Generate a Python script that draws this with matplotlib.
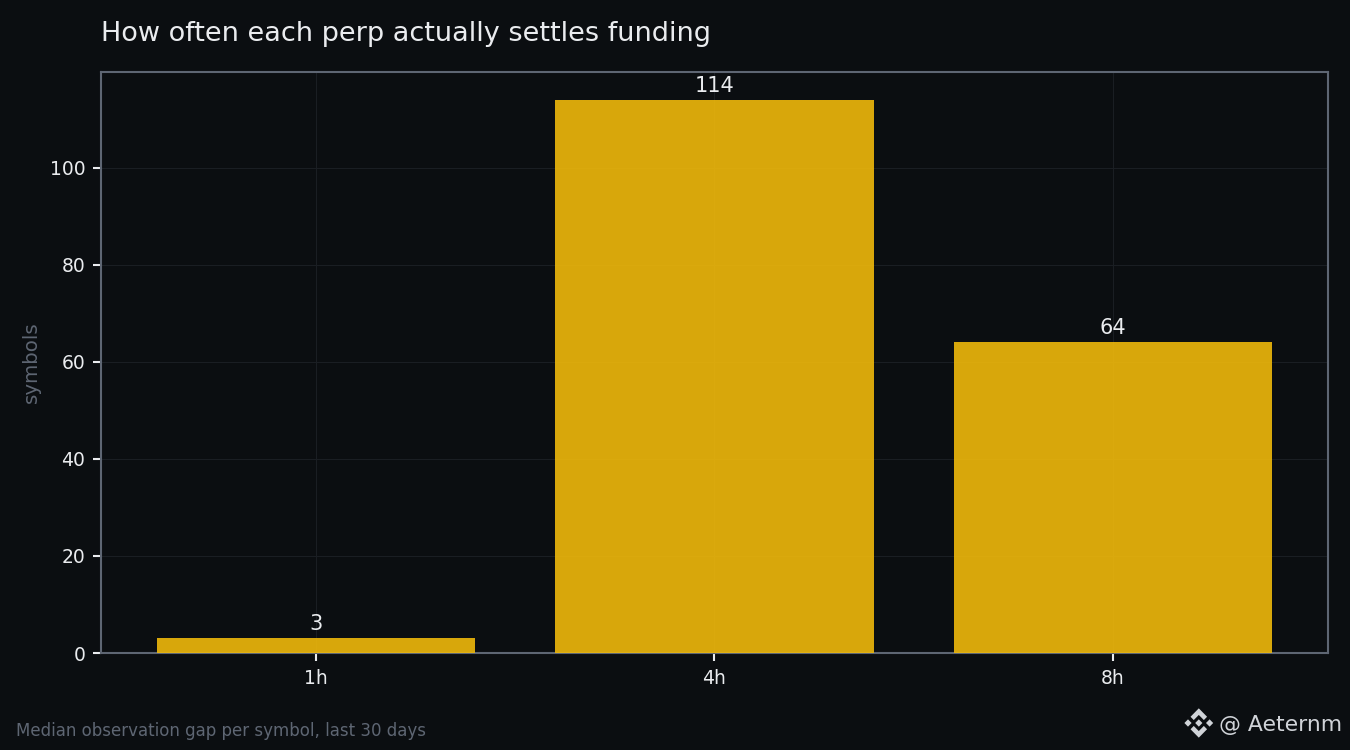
import matplotlib
matplotlib.use("Agg")
import matplotlib.pyplot as plt
from matplotlib.patches import Polygon

# data
intervals = ["1h", "4h", "8h"]
counts = [3, 114, 64]

BG = "#0b0e11"
GOLD = "#f0b90b"
TXT = "#eaecef"
MUTED = "#5e6673"
GRID = "#1a1e23"

plt.rcParams["font.family"] = ["DejaVu Sans"]

fig = plt.figure(figsize=(9, 5), dpi=150, facecolor=BG)
ax = fig.add_axes([0.0748, 0.1293, 0.9089, 0.7747])
ax.set_facecolor(BG)

x = list(range(len(intervals)))
bars = ax.bar(x, counts, width=0.8, color=GOLD, alpha=0.9, zorder=3)
for b, v in zip(bars, counts):
    ax.annotate(str(v), (b.get_x() + b.get_width() / 2, v), xytext=(0, 2),
                textcoords="offset points", ha="center", va="bottom",
                color=TXT, fontsize=10)

ax.set_xticks(x)
ax.set_xticklabels(intervals)
ax.set_ylabel("symbols", color=MUTED, fontsize=9.5, labelpad=4)
ax.tick_params(colors=TXT, labelsize=9, length=4, width=1)
for t in ax.get_xticklines() + ax.get_yticklines():
    t.set_color("#c8ccd2")
ax.grid(True, color=GRID, linewidth=0.5, zorder=0)
for s in ax.spines.values():
    s.set_color(MUTED)
    s.set_linewidth(1)

fig.text(0.0748, 0.955, "How often each perp actually settles funding",
         color=TXT, fontsize=13, ha="left", va="center")
fig.text(0.012, 0.026, "Median observation gap per symbol, last 30 days",
         color=MUTED, fontsize=8, ha="left", va="center")

# watermark
fig.text(0.9945, 0.033, "@ Aeternm", color="#d0d3d8", fontsize=10.5,
         ha="right", va="center")
lax = fig.add_axes([0.876, 0.014, 0.024, 0.044])
lax.set_xlim(-4.5, 4.5)
lax.set_ylim(-4.5, 4.5)
lax.axis("off")
lc = "#d0d3d8"
shapes = [
    [(0, 1), (1, 0), (0, -1), (-1, 0)],
    [(-3, 1), (-2, 0), (-3, -1), (-4, 0)],
    [(3, 1), (4, 0), (3, -1), (2, 0)],
    [(-2.3, 1.7), (0, 4), (2.3, 1.7), (1.4, 0.8), (0, 2.2), (-1.4, 0.8)],
    [(-2.3, -1.7), (0, -4), (2.3, -1.7), (1.4, -0.8), (0, -2.2), (-1.4, -0.8)],
]
for pts in shapes:
    lax.add_patch(Polygon(pts, closed=True, color=lc, lw=0))

fig.savefig("out.png", dpi=150, facecolor=BG)
